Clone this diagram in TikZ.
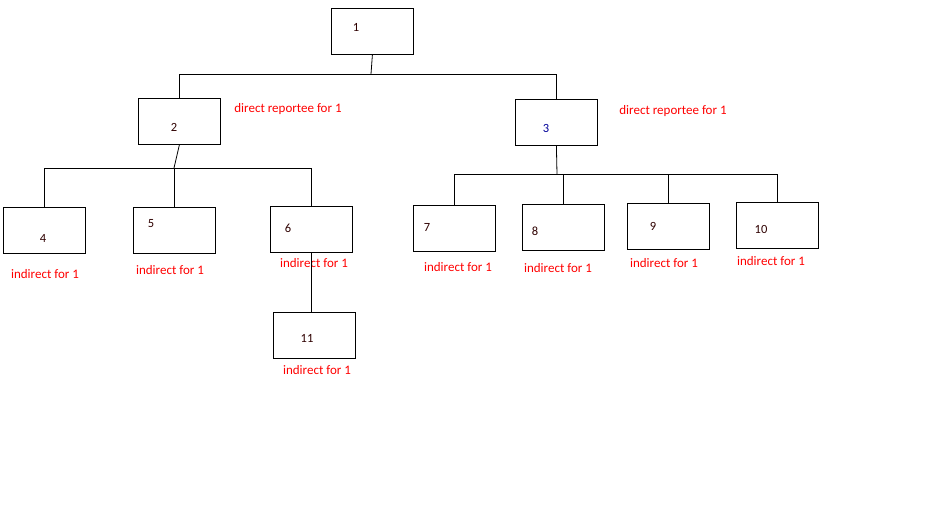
\documentclass[tikz,border=0pt]{standalone}
\usepackage{fontspec}
\setmainfont{Carlito}
\usetikzlibrary{positioning}
\tikzset{
  box/.style={draw, line width=0.8pt, inner sep=0pt, minimum width=82pt, minimum height=46pt, anchor=north west},
  num/.style={font=\fontsize{12.5}{14}\selectfont, text=black!70!red!60!black},
  rep/.style={font=\fontsize{13}{15}\selectfont, text=red},
  wire/.style={line width=0.8pt}
}
\begin{document}
\begin{tikzpicture}[x=1pt,y=-1pt]
    \useasboundingbox (0,0) rectangle (943,506);
    % boxes
    \node[box] (b1) at (331,8) {};
    \node[box] (b2) at (138,98) {};
    \node[box] (b3) at (515,99) {};
    \node[box] (b4) at (3,207) {};
    \node[box] (b5) at (133,207) {};
    \node[box] (b6) at (270,206) {};
    \node[box] (b7) at (413,205) {};
    \node[box] (b8) at (522,204) {};
    \node[box] (b9) at (627,203) {};
    \node[box] (b10) at (736,202) {};
    \node[box] (b11) at (273,312) {};

    \node[num] (n1) at (356,27) {1};
    \node[num] (n2) at (174,127) {2};
    \node[num,text=blue!60!black] (n3) at (546,128) {3};
    \node[num] (n4) at (43,238) {4};
    \node[num] (n5) at (151,224) {5};
    \node[num] (n6) at (288,228) {6};
    \node[num] (n7) at (427,227) {7};
    \node[num] (n8) at (535,231) {8};
    \node[num] (n9) at (653,226) {9};
    \node[num] (n10) at (761,229) {10};
    \node[num] (n11) at (307,338) {11};

    % labels
    \node[rep] (d2) at (288,109) {direct reportee for 1};
    \node[rep] (d3) at (673,111) {direct reportee for 1};
    \node[rep] (i4) at (45,274) {indirect for 1};
    \node[rep] (i5) at (170,270) {indirect for 1};
    \node[rep] (i6) at (314,263) {indirect for 1};
    \node[rep] (i7) at (458,267) {indirect for 1};
    \node[rep] (i8) at (558,268) {indirect for 1};
    \node[rep] (i9) at (664,263) {indirect for 1};
    \node[rep] (i10) at (771,261) {indirect for 1};
    \node[rep] (i11) at (317,370) {indirect for 1};

    % connectors
    \coordinate (j1) at (371,74);
    \coordinate (j2) at (174,168);
    \coordinate (j3) at (557,174);
    \draw[wire] (b1.south) -- (j1);
    \draw[wire] (j1) -| (b2.north);
    \draw[wire] (j1) -| (b3.north);
    \draw[wire] (b2.south) -- (j2);
    \foreach \b in {b4,b5,b6} \draw[wire] (j2) -| (\b.north);
    \draw[wire] (b3.south) -- (j3);
    \foreach \b in {b7,b8,b9,b10} \draw[wire] (j3) -| (\b.north);
    \draw[wire] (b6.south) -- (b6.south |- b11.north);
\end{tikzpicture}
\end{document}
